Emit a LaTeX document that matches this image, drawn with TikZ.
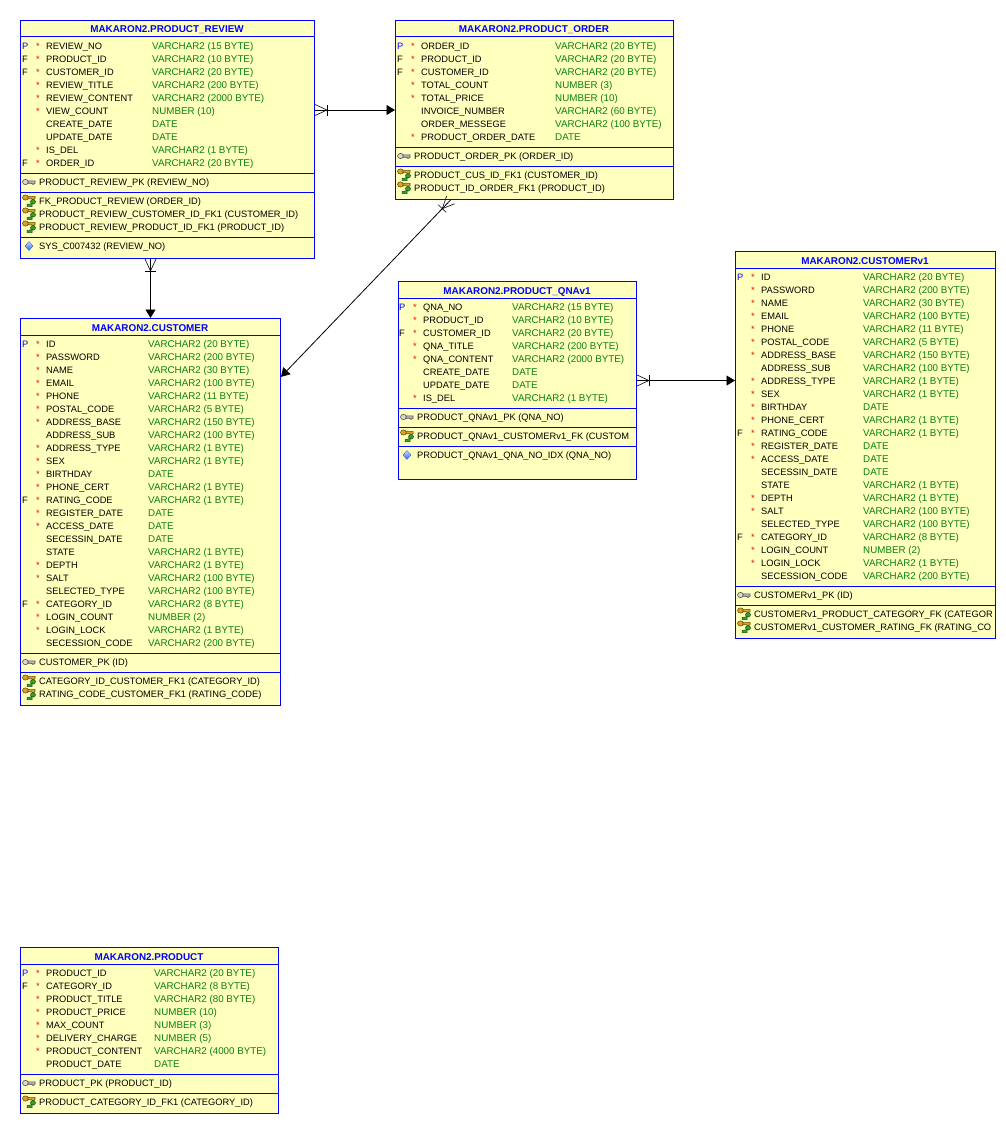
\documentclass[tikz,border=0pt]{standalone}
\usepackage{fontspec}
\setmainfont{Liberation Sans}
\usetikzlibrary{arrows.meta}
\usetikzlibrary{decorations.markings}
\definecolor{tablefill}{HTML}{FFFFBE}
\definecolor{tableblue}{HTML}{0000FF}
\definecolor{typegreen}{HTML}{0A820A}
\definecolor{keygold}{HTML}{D9A520}
\definecolor{keygreen}{HTML}{35A02A}
\newcommand{\pkflag}{\textcolor{tableblue}{P}}

\tikzset{
  tablebox/.style={draw=tableblue, fill=tablefill, line width=1pt, inner sep=0pt, anchor=north west},
  tabletitle/.style={anchor=base, inner sep=0pt, text=tableblue, font=\fontsize{9.9}{11}\selectfont\bfseries},
  rowtext/.style={anchor=base west, inner sep=0pt, font=\fontsize{9.3}{11}\selectfont},
  typetext/.style={rowtext, text=typegreen, font=\fontsize{9.8}{11}\selectfont},
  rowline/.style={draw=tableblue, line width=1pt},
  crowlink/.style={draw=black, line width=0.8pt, -{Triangle[length=8.5pt,width=10pt]},
    postaction={decorate, decoration={markings, mark=at position 0 with {
      \draw[-, line width=0.6pt] (12pt,-5.5pt)--(12pt,5.5pt);
      \draw[-, line width=0.6pt] (0pt,-5.5pt)--(12pt,0pt)--(0pt,5.5pt);}}}},
  pkkey/.pic={
    \filldraw[fill=black!15, draw=black!70, line width=0.6pt] (-3.5,0) ellipse [x radius=3, y radius=2.6];
    \filldraw[fill=black!30, draw=black!70, line width=0.6pt] (-1,-1.2)--(6,-1.2)--(6,1.2)--(4,2.5)--(2.5,1.2)--(-1,1.2)--cycle;},
  fkkey/.pic={
    \filldraw[fill=keygold, draw=black!50!keygold, line width=0.6pt] (-3.5,-3.5) ellipse [x radius=3, y radius=2.6];
    \filldraw[fill=keygold, draw=black!50!keygold, line width=0.6pt] (-1,-4.7)--(6,-4.7)--(6,-2.3)--(4,-1)--(2.5,-2.3)--(-1,-2.3)--cycle;
    \filldraw[fill=keygreen, draw=black!50!keygreen, line width=0.5pt] (4,0.8) ellipse [x radius=2.5, y radius=2.3];
    \filldraw[fill=keygreen, draw=black!50!keygreen, line width=0.5pt] (3,2.5)--(3,5.5)--(-2,5.5)--(-2,3.5)--(1,3)--cycle;},
  idxmark/.pic={
    \shade[top color=blue!15, bottom color=blue!55!cyan, draw=blue!40!gray, line width=0.3pt]
    (-4,0)--(0,-4.5)--(4,0)--(0,4.5)--cycle;}
}

% column rows: name, left edge, first row y, type column x, rows
\newcommand{\tablerows}[5]{
  \foreach \flag/\req/\col/\type [count=\i from 0] in {#5} {
    \pgfmathsetmacro{\rowy}{#3+13*\i+3.5}
    \node[rowtext] (#1-flag-\i) at (#2+2,\rowy) {\flag};
    \node[rowtext, text=red] (#1-req-\i) at (#2+16,\rowy) {\req};
    \node[rowtext] (#1-col-\i) at (#2+26,\rowy) {\col};
    \node[typetext] (#1-type-\i) at (#4,\rowy) {\type};
  }
}
% constraint rows: name, left edge, rows of icon/y/label
\newcommand{\tablekeys}[3]{
  \foreach \icon/\keyy/\keytext [count=\i] in {#3} {
    \pic at (#2+9,\keyy) {\icon};
    \node[rowtext] (#1-key-\i) at (#2+19,\keyy+3.5) {\keytext};
  }
}

\begin{document}
\begin{tikzpicture}[x=1pt,y=-1pt]
  \useasboundingbox (0,0) rectangle (1006,1124);

  % Product review
  \node[tablebox, minimum width=294pt, minimum height=238pt] (review) at (20,20) {};
  \node[tabletitle] (reviewtitle) at (167,33) {MAKARON2.PRODUCT\_REVIEW};
  \draw[rowline] (review.west |- 0,37)--(review.east |- 0,37);
  \draw[rowline] (review.west |- 0,173)--(review.east |- 0,173);
  \draw[rowline] (review.west |- 0,192)--(review.east |- 0,192);
  \draw[rowline] (review.west |- 0,237)--(review.east |- 0,237);
  \tablerows{review}{20}{46}{152}{
    \pkflag/*/REVIEW\_NO/VARCHAR2 (15 BYTE),
    F/*/PRODUCT\_ID/VARCHAR2 (10 BYTE),
    F/*/CUSTOMER\_ID/VARCHAR2 (20 BYTE),
    /*/REVIEW\_TITLE/VARCHAR2 (200 BYTE),
    /*/REVIEW\_CONTENT/VARCHAR2 (2000 BYTE),
    /*/VIEW\_COUNT/NUMBER (10),
    //CREATE\_DATE/DATE,
    //UPDATE\_DATE/DATE,
    /*/IS\_DEL/VARCHAR2 (1 BYTE),
    F/*/ORDER\_ID/VARCHAR2 (20 BYTE)}
  \tablekeys{review}{20}{
    pkkey/182/PRODUCT\_REVIEW\_PK (REVIEW\_NO),
    fkkey/201/FK\_PRODUCT\_REVIEW (ORDER\_ID),
    fkkey/214/PRODUCT\_REVIEW\_CUSTOMER\_ID\_FK1 (CUSTOMER\_ID),
    fkkey/227/PRODUCT\_REVIEW\_PRODUCT\_ID\_FK1 (PRODUCT\_ID),
    idxmark/246/SYS\_C007432 (REVIEW\_NO)}

  % Product order
  \node[tablebox, minimum width=278pt, minimum height=179pt] (order) at (395,20) {};
  \node[tabletitle] (ordertitle) at (534,33) {MAKARON2.PRODUCT\_ORDER};
  \draw[rowline] (order.west |- 0,37)--(order.east |- 0,37);
  \draw[rowline] (order.west |- 0,147)--(order.east |- 0,147);
  \draw[rowline] (order.west |- 0,166)--(order.east |- 0,166);
  \tablerows{order}{395}{46}{555}{
    \pkflag/*/ORDER\_ID/VARCHAR2 (20 BYTE),
    F/*/PRODUCT\_ID/VARCHAR2 (20 BYTE),
    F/*/CUSTOMER\_ID/VARCHAR2 (20 BYTE),
    /*/TOTAL\_COUNT/NUMBER (3),
    /*/TOTAL\_PRICE/NUMBER (10),
    //INVOICE\_NUMBER/VARCHAR2 (60 BYTE),
    //ORDER\_MESSEGE/VARCHAR2 (100 BYTE),
    /*/PRODUCT\_ORDER\_DATE/DATE}
  \tablekeys{order}{395}{
    pkkey/156/PRODUCT\_ORDER\_PK (ORDER\_ID),
    fkkey/175/PRODUCT\_CUS\_ID\_FK1 (CUSTOMER\_ID),
    fkkey/188/PRODUCT\_ID\_ORDER\_FK1 (PRODUCT\_ID)}

  % Customer
  \node[tablebox, minimum width=260pt, minimum height=387pt] (customer) at (20,318) {};
  \node[tabletitle] (customertitle) at (150,331) {MAKARON2.CUSTOMER};
  \draw[rowline] (customer.west |- 0,335)--(customer.east |- 0,335);
  \draw[rowline] (customer.west |- 0,653)--(customer.east |- 0,653);
  \draw[rowline] (customer.west |- 0,672)--(customer.east |- 0,672);
  \tablerows{customer}{20}{344}{148}{
    \pkflag/*/ID/VARCHAR2 (20 BYTE),
    /*/PASSWORD/VARCHAR2 (200 BYTE),
    /*/NAME/VARCHAR2 (30 BYTE),
    /*/EMAIL/VARCHAR2 (100 BYTE),
    /*/PHONE/VARCHAR2 (11 BYTE),
    /*/POSTAL\_CODE/VARCHAR2 (5 BYTE),
    /*/ADDRESS\_BASE/VARCHAR2 (150 BYTE),
    //ADDRESS\_SUB/VARCHAR2 (100 BYTE),
    /*/ADDRESS\_TYPE/VARCHAR2 (1 BYTE),
    /*/SEX/VARCHAR2 (1 BYTE),
    /*/BIRTHDAY/DATE,
    /*/PHONE\_CERT/VARCHAR2 (1 BYTE),
    F/*/RATING\_CODE/VARCHAR2 (1 BYTE),
    /*/REGISTER\_DATE/DATE,
    /*/ACCESS\_DATE/DATE,
    //SECESSIN\_DATE/DATE,
    //STATE/VARCHAR2 (1 BYTE),
    /*/DEPTH/VARCHAR2 (1 BYTE),
    /*/SALT/VARCHAR2 (100 BYTE),
    //SELECTED\_TYPE/VARCHAR2 (100 BYTE),
    F/*/CATEGORY\_ID/VARCHAR2 (8 BYTE),
    /*/LOGIN\_COUNT/NUMBER (2),
    /*/LOGIN\_LOCK/VARCHAR2 (1 BYTE),
    //SECESSION\_CODE/VARCHAR2 (200 BYTE)}
  \tablekeys{customer}{20}{
    pkkey/662/CUSTOMER\_PK (ID),
    fkkey/681/CATEGORY\_ID\_CUSTOMER\_FK1 (CATEGORY\_ID),
    fkkey/694/RATING\_CODE\_CUSTOMER\_FK1 (RATING\_CODE)}

  % Product QnA
  \node[tablebox, minimum width=238pt, minimum height=198pt] (qna) at (398,281) {};
  \node[tabletitle] (qnatitle) at (517,294) {MAKARON2.PRODUCT\_QNAv1};
  \draw[rowline] (qna.west |- 0,298)--(qna.east |- 0,298);
  \draw[rowline] (qna.west |- 0,408)--(qna.east |- 0,408);
  \draw[rowline] (qna.west |- 0,427)--(qna.east |- 0,427);
  \draw[rowline] (qna.west |- 0,446)--(qna.east |- 0,446);
  \tablerows{qna}{397}{307}{512}{
    \pkflag/*/QNA\_NO/VARCHAR2 (15 BYTE),
    /*/PRODUCT\_ID/VARCHAR2 (10 BYTE),
    F/*/CUSTOMER\_ID/VARCHAR2 (20 BYTE),
    /*/QNA\_TITLE/VARCHAR2 (200 BYTE),
    /*/QNA\_CONTENT/VARCHAR2 (2000 BYTE),
    //CREATE\_DATE/DATE,
    //UPDATE\_DATE/DATE,
    /*/IS\_DEL/VARCHAR2 (1 BYTE)}
  \tablekeys{qna}{398}{
    pkkey/417/PRODUCT\_QNAv1\_PK (QNA\_NO),
    fkkey/436/PRODUCT\_QNAv1\_CUSTOMERv1\_FK (CUSTOM,
    idxmark/455/PRODUCT\_QNAv1\_QNA\_NO\_IDX (QNA\_NO)}

  % Customer v1
  \node[tablebox, minimum width=260pt, minimum height=387pt] (customerv) at (735,251) {};
  \node[tabletitle] (customervtitle) at (865,264) {MAKARON2.CUSTOMERv1};
  \draw[rowline] (customerv.west |- 0,268)--(customerv.east |- 0,268);
  \draw[rowline] (customerv.west |- 0,586)--(customerv.east |- 0,586);
  \draw[rowline] (customerv.west |- 0,605)--(customerv.east |- 0,605);
  \tablerows{customerv}{735}{277}{863}{
    \pkflag/*/ID/VARCHAR2 (20 BYTE),
    /*/PASSWORD/VARCHAR2 (200 BYTE),
    /*/NAME/VARCHAR2 (30 BYTE),
    /*/EMAIL/VARCHAR2 (100 BYTE),
    /*/PHONE/VARCHAR2 (11 BYTE),
    /*/POSTAL\_CODE/VARCHAR2 (5 BYTE),
    /*/ADDRESS\_BASE/VARCHAR2 (150 BYTE),
    //ADDRESS\_SUB/VARCHAR2 (100 BYTE),
    /*/ADDRESS\_TYPE/VARCHAR2 (1 BYTE),
    /*/SEX/VARCHAR2 (1 BYTE),
    /*/BIRTHDAY/DATE,
    /*/PHONE\_CERT/VARCHAR2 (1 BYTE),
    F/*/RATING\_CODE/VARCHAR2 (1 BYTE),
    /*/REGISTER\_DATE/DATE,
    /*/ACCESS\_DATE/DATE,
    //SECESSIN\_DATE/DATE,
    //STATE/VARCHAR2 (1 BYTE),
    /*/DEPTH/VARCHAR2 (1 BYTE),
    /*/SALT/VARCHAR2 (100 BYTE),
    //SELECTED\_TYPE/VARCHAR2 (100 BYTE),
    F/*/CATEGORY\_ID/VARCHAR2 (8 BYTE),
    /*/LOGIN\_COUNT/NUMBER (2),
    /*/LOGIN\_LOCK/VARCHAR2 (1 BYTE),
    //SECESSION\_CODE/VARCHAR2 (200 BYTE)}
  \tablekeys{customerv}{735}{
    pkkey/595/CUSTOMERv1\_PK (ID),
    fkkey/614/CUSTOMERv1\_PRODUCT\_CATEGORY\_FK (CATEGOR,
    fkkey/627/CUSTOMERv1\_CUSTOMER\_RATING\_FK (RATING\_CO}

  % Product
  \node[tablebox, minimum width=258pt, minimum height=166pt] (product) at (20,947) {};
  \node[tabletitle] (producttitle) at (149,960) {MAKARON2.PRODUCT};
  \draw[rowline] (product.west |- 0,964)--(product.east |- 0,964);
  \draw[rowline] (product.west |- 0,1074)--(product.east |- 0,1074);
  \draw[rowline] (product.west |- 0,1093)--(product.east |- 0,1093);
  \tablerows{product}{20}{973}{154}{
    \pkflag/*/PRODUCT\_ID/VARCHAR2 (20 BYTE),
    F/*/CATEGORY\_ID/VARCHAR2 (8 BYTE),
    /*/PRODUCT\_TITLE/VARCHAR2 (80 BYTE),
    /*/PRODUCT\_PRICE/NUMBER (10),
    /*/MAX\_COUNT/NUMBER (3),
    /*/DELIVERY\_CHARGE/NUMBER (5),
    /*/PRODUCT\_CONTENT/VARCHAR2 (4000 BYTE),
    //PRODUCT\_DATE/DATE}
  \tablekeys{product}{20}{
    pkkey/1083/PRODUCT\_PK (PRODUCT\_ID),
    fkkey/1102/PRODUCT\_CATEGORY\_ID\_FK1 (CATEGORY\_ID)}

  % Links
  \draw[crowlink] (review.east |- order.west)--(order.west);
  \draw[crowlink] (customer.north |- review.south)--(customer.north);
  \draw[crowlink] (order.227.5)--(customer.46.2);
  \draw[crowlink] (qna.east)--(qna.east -| customerv.west);
\end{tikzpicture}
\end{document}
